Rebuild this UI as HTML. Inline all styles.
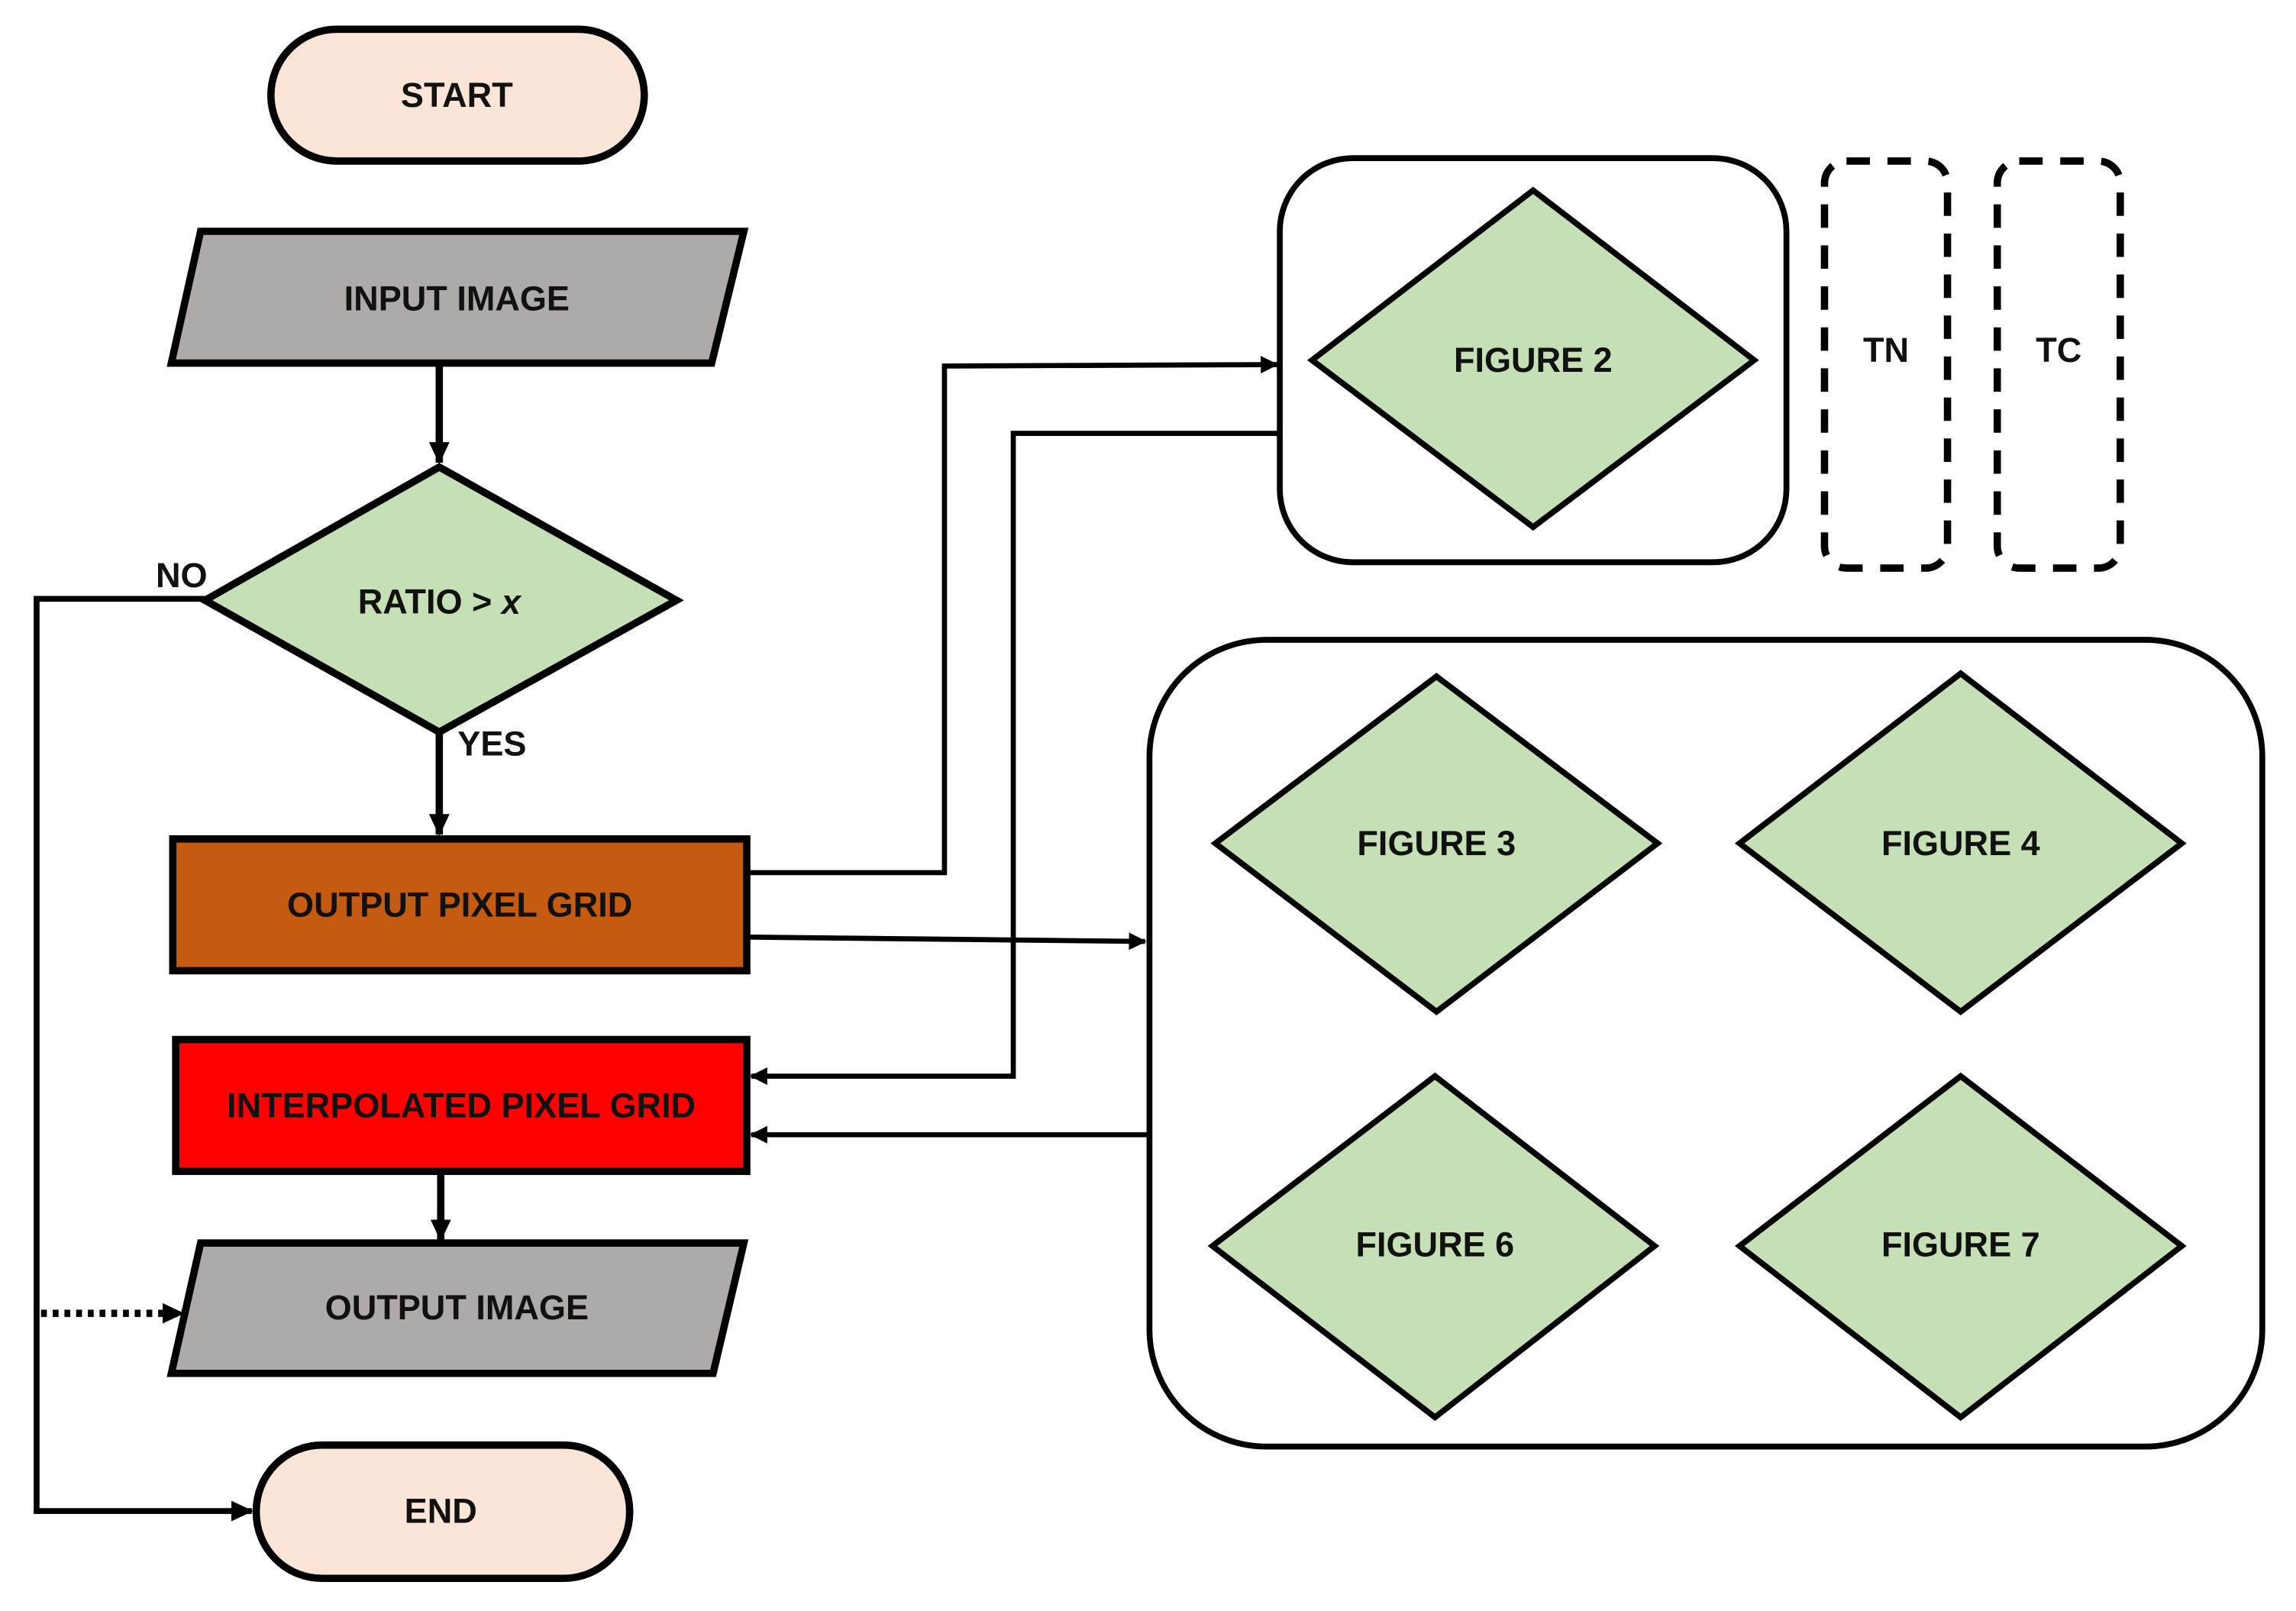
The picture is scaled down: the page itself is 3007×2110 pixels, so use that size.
<!DOCTYPE html>
<html><head><meta charset="utf-8"><style>
html,body{margin:0;padding:0;background:#fff;}
svg{display:block;}
text{font-family:"Liberation Sans",sans-serif;font-weight:bold;font-size:23.5px;fill:#111;text-anchor:middle;dominant-baseline:central;}
</style></head><body>
<svg width="3007" height="2110" viewBox="0 0 1568 1100.3" preserveAspectRatio="none" xmlns="http://www.w3.org/2000/svg">
<defs>
<marker id="ah" markerWidth="12" markerHeight="12" refX="11" refY="6" orient="auto" markerUnits="userSpaceOnUse"><path d="M0,0 L12,6 L0,12 z" fill="#000"/></marker>
<marker id="ah2" markerWidth="15" markerHeight="14" refX="14" refY="7" orient="auto" markerUnits="userSpaceOnUse"><path d="M0,0 L15,7 L0,14 z" fill="#000"/></marker>
</defs>
<g stroke="#000" stroke-width="5" fill="none">
<rect x="185" y="20" width="255" height="90" rx="45" fill="#fbe5d6"/>
<polygon points="137,158 508,158 486,248 117,248" fill="#aeaaaa"/>
<line x1="300" y1="250" x2="300" y2="316" marker-end="url(#ah2)"/>
<polygon points="140,410 300,319 462,410 300,500" fill="#c5e0b4"/>
<polyline points="140,409 25,409 25,1032 172,1032" marker-end="url(#ah2)" stroke-width="4"/>
<line x1="300" y1="500" x2="300" y2="570" marker-end="url(#ah2)"/>
<rect x="118" y="573" width="392" height="90" fill="#c55a11"/>
<rect x="120" y="710" width="390" height="90" fill="#ff0000"/>
<line x1="301" y1="800" x2="301" y2="847" marker-end="url(#ah2)"/>
<polygon points="137,849 508,849 487,938 117,938" fill="#aeaaaa"/>
<line x1="28" y1="897" x2="125" y2="897" stroke-dasharray="4,4" marker-end="url(#ah2)"/>
<rect x="175" y="987" width="255" height="91" rx="45" fill="#fbe5d6"/>

<rect x="874" y="108" width="346" height="276" rx="50" stroke-width="4"/>
<polygon points="896,246 1047,130 1198,246 1047,360" fill="#c5e0b4" stroke-width="4"/>
<rect x="1246" y="110" width="84" height="278" rx="15" stroke-dasharray="16,12"/>
<rect x="1364" y="110" width="84" height="278" rx="15" stroke-dasharray="16,12"/>
<rect x="785" y="437" width="760" height="551" rx="80" stroke-width="4"/>
<polygon points="830,576 981,462 1132,576 981,691" fill="#c5e0b4" stroke-width="4"/>
<polygon points="1188,576 1339,460 1490,576 1339,691" fill="#c5e0b4" stroke-width="4"/>
<polygon points="828,851 980,735 1130,851 980,968" fill="#c5e0b4" stroke-width="4"/>
<polygon points="1188,851 1339,735 1490,851 1339,968" fill="#c5e0b4" stroke-width="4"/>

<polyline points="510,596 645,596 645,250 872,249" stroke-width="3.5" marker-end="url(#ah)"/>
<line x1="510" y1="640" x2="782" y2="643" stroke-width="3.5" marker-end="url(#ah)"/>
<polyline points="874,296 692,296 692,735 513,735" stroke-width="3.5" marker-end="url(#ah)"/>
<line x1="785" y1="775" x2="513" y2="775" stroke-width="3.5" marker-end="url(#ah)"/>
</g>
<text x="312" y="65">START</text>
<text x="312" y="204">INPUT IMAGE</text>
<text x="300" y="411">RATIO &gt; <tspan font-style="italic">x</tspan></text>
<text x="124" y="393">NO</text>
<text x="336" y="508">YES</text>
<text x="314" y="618">OUTPUT PIXEL GRID</text>
<text x="315" y="755">INTERPOLATED PIXEL GRID</text>
<text x="312" y="893">OUTPUT IMAGE</text>
<text x="301" y="1032">END</text>
<text x="1047" y="246">FIGURE 2</text>
<text x="1288" y="239">TN</text>
<text x="1406" y="239">TC</text>
<text x="981" y="576">FIGURE 3</text>
<text x="1339" y="576">FIGURE 4</text>
<text x="980" y="850">FIGURE 6</text>
<text x="1339" y="850">FIGURE 7</text>
</svg>
</body></html>
